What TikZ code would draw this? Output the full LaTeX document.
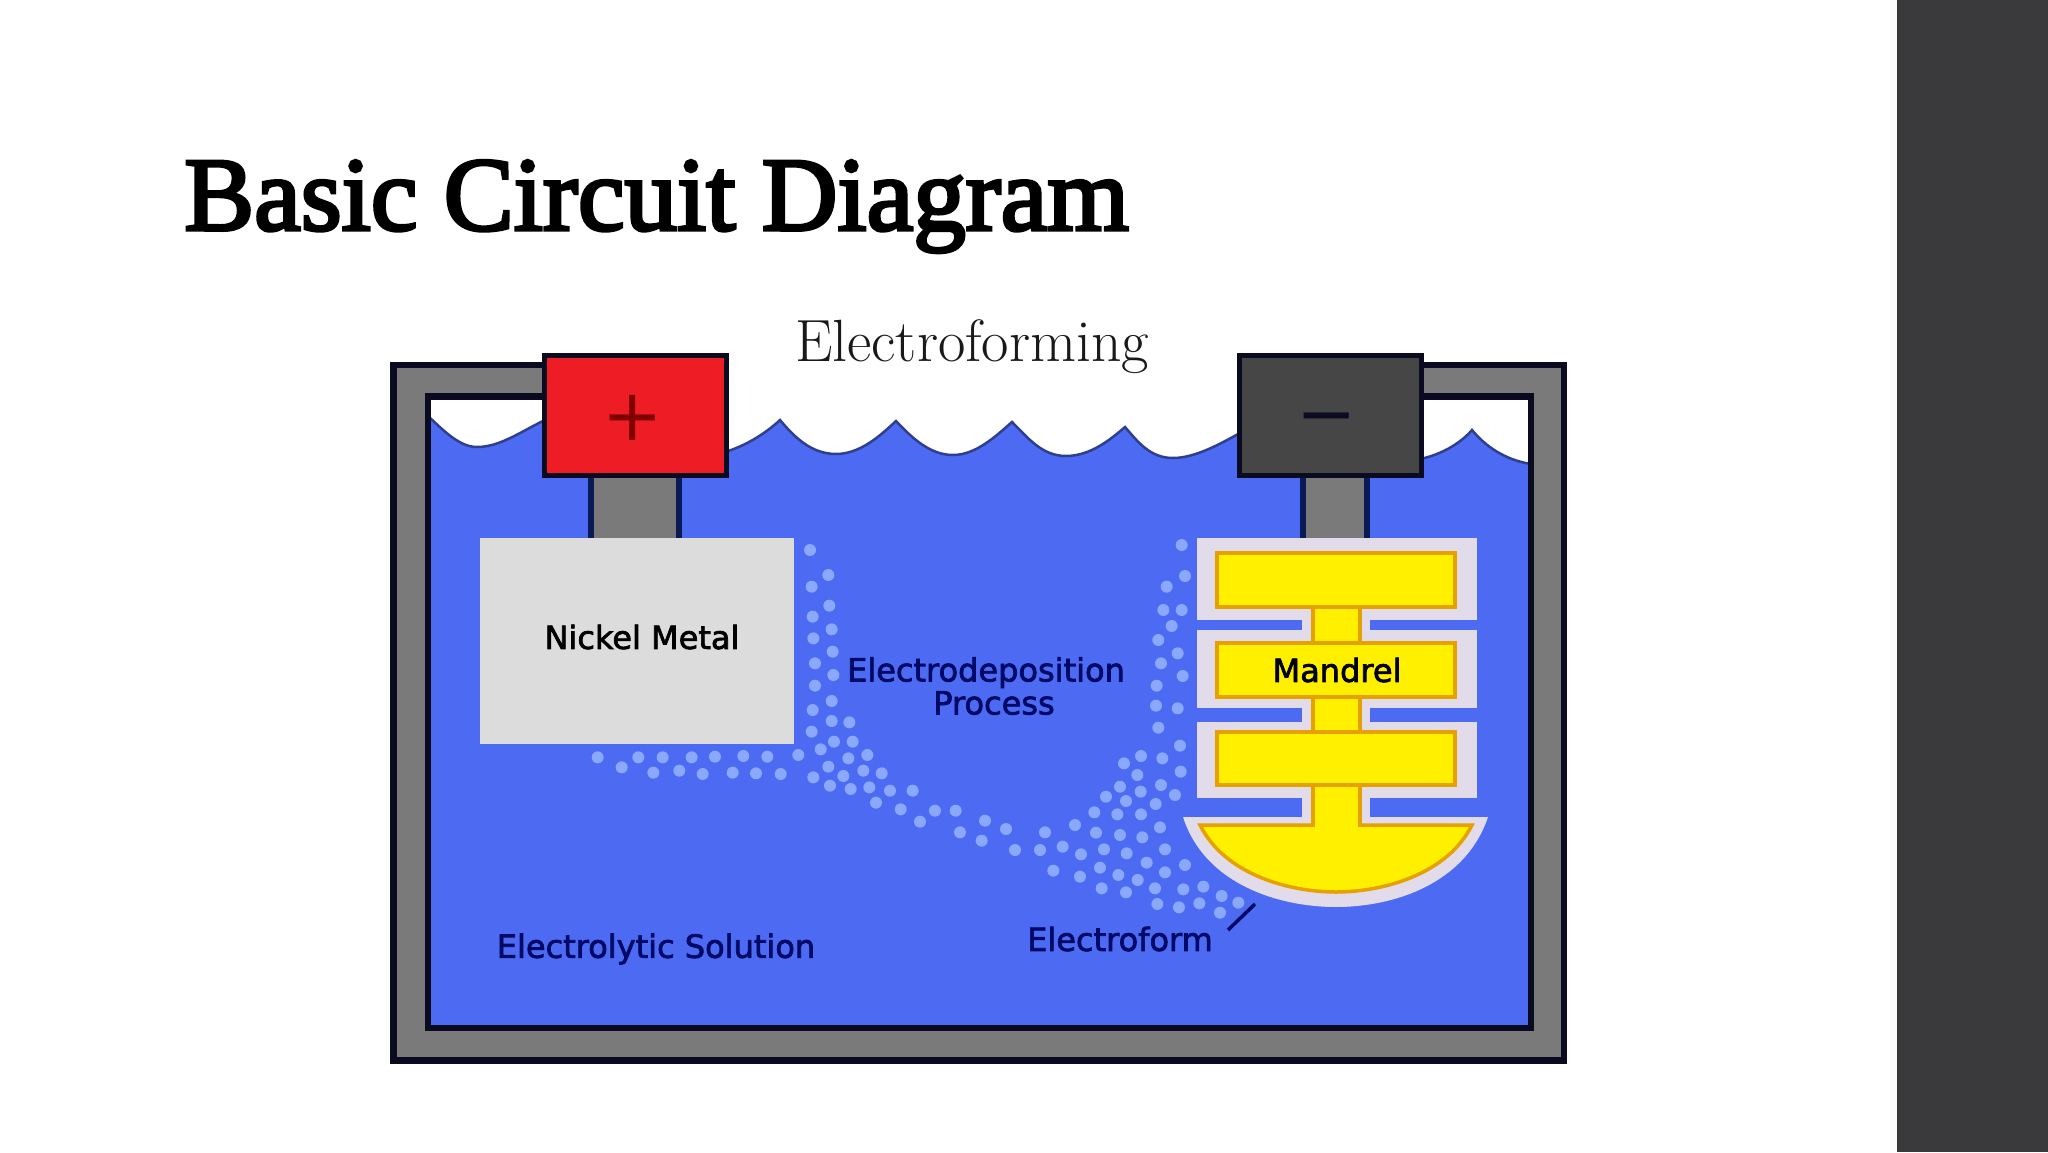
\documentclass[tikz,border=0pt]{standalone}
\usepackage{fontspec}
\newfontfamily\lblfont[FakeBold=2.2]{DejaVu Sans}
\newfontfamily\signfont{DejaVu Sans}
\newfontfamily\titlefont[FakeBold=3.2]{Liberation Serif}
\definecolor{water}{HTML}{4C6AF2}
\definecolor{waveline}{HTML}{2E3F90}
\definecolor{dotc}{HTML}{8BA8FF}
\definecolor{framegrey}{HTML}{7A7A7A}
\definecolor{edgec}{HTML}{0A0A20}
\definecolor{postedge}{HTML}{0A1A55}
\definecolor{redc}{HTML}{EE1C25}
\definecolor{darkc}{HTML}{464646}
\definecolor{nickelc}{HTML}{DCDCDC}
\definecolor{haloc}{HTML}{E2DCEA}
\definecolor{yel}{HTML}{FFF000}
\definecolor{orng}{HTML}{E6A000}
\definecolor{navy}{HTML}{000A66}
\definecolor{sidec}{HTML}{3A3A3C}
\tikzset{
  termbox/.style={draw=edgec,line width=5pt,minimum width=182pt,minimum height=120pt,inner sep=0pt,anchor=center},
  postbox/.style={draw=postedge,line width=6pt,fill=framegrey},
  plate/.style={draw=orng,line width=3.5pt,fill=yel},
  halo/.style={fill=haloc},
  lbl/.style={font=\lblfont\fontsize{32}{33}\selectfont,inner sep=0pt,align=center},
  bubble/.style={fill=dotc},
}
\begin{document}
\begin{tikzpicture}[x=1pt,y=-1pt]
\useasboundingbox (0,0) rectangle (2048,1152);
\fill[white] (0,0) rectangle (2048,1152);
\fill[sidec] (1897,0) rectangle (2048,1152);
% water
\fill[water] (428,416) .. controls (445,432) and (460,447) .. (477,447)
  .. controls (500,447) and (520,432) .. (545,420) -- (725,452)
  .. controls (745,446) and (765,434) .. (780,420)
  .. controls (795,438) and (812,454) .. (836,454)
  .. controls (860,454) and (880,436) .. (896,421)
  .. controls (912,438) and (930,455) .. (953,455)
  .. controls (976,455) and (996,436) .. (1012,422)
  .. controls (1028,438) and (1042,456) .. (1066,456)
  .. controls (1090,456) and (1110,440) .. (1125,427)
  .. controls (1138,442) and (1150,458) .. (1173,458)
  .. controls (1195,458) and (1220,444) .. (1240,433) -- (1420,459)
  .. controls (1440,455) and (1460,444) .. (1472,430)
  .. controls (1485,446) and (1505,460) .. (1531,464) -- (1531,1028) -- (428,1028) -- cycle;
\draw[waveline,line width=2.5pt,line join=round] (428,416) .. controls (445,432) and (460,447) .. (477,447)
  .. controls (500,447) and (520,432) .. (545,420);
\draw[waveline,line width=2.5pt] (725,452)
  .. controls (745,446) and (765,434) .. (780,420)
  .. controls (795,438) and (812,454) .. (836,454)
  .. controls (860,454) and (880,436) .. (896,421)
  .. controls (912,438) and (930,455) .. (953,455)
  .. controls (976,455) and (996,436) .. (1012,422)
  .. controls (1028,438) and (1042,456) .. (1066,456)
  .. controls (1090,456) and (1110,440) .. (1125,427)
  .. controls (1138,442) and (1150,458) .. (1173,458)
  .. controls (1195,458) and (1220,444) .. (1240,433);
\draw[waveline,line width=2.5pt] (1420,459)
  .. controls (1440,455) and (1460,444) .. (1472,430)
  .. controls (1485,446) and (1505,460) .. (1531,464);
% tank frame
\path[fill=framegrey,even odd rule,draw=edgec,line width=6.5pt]
  (393.5,365) rectangle (1564,1060.5) (428,396.5) rectangle (1531,1028);
\fill[white] (700,355) rectangle (1260,403);
% posts
\draw[postbox] (591,470) rectangle (679,548);
\draw[postbox] (1303,470) rectangle (1367,548);
% terminals
\node[termbox,fill=redc] (plusbox) at (635,415) {};
\node[termbox,fill=darkc] (minusbox) at (1330.5,415) {};
\node[font=\signfont\fontsize{72}{72}\selectfont,text=red!50!black,inner sep=0pt] (plussign) at (633,418) {+};
\node[font=\signfont\fontsize{72}{72}\selectfont,text=edgec,inner sep=0pt] (minussign) at (1327,426) {−};
% nickel
\node[fill=nickelc,minimum width=314pt,minimum height=206pt,inner sep=0pt] (nickel) at (637,641) {};
\node[lbl,text=black] (nickellabel) at (642,637) {Nickel Metal};
% mandrel halo
\fill[halo] (1197,538) rectangle (1477,620);
\fill[halo] (1197,630) rectangle (1477,708);
\fill[halo] (1197,722) rectangle (1477,798);
\fill[halo] (1302,615) rectangle (1370,825);
\fill[halo] (1183,817) .. controls (1205,885) and (1280,907) .. (1336,907)
  .. controls (1392,907) and (1465,885) .. (1488,817) -- cycle;
% mandrel yellow
\draw[plate] (1313,600) rectangle (1360,830);
\draw[plate] (1217,553) rectangle (1455,607);
\node[plate,minimum width=238pt,minimum height=54pt,inner sep=0pt] (plateb) at (1336,670) {};
\draw[plate] (1217,732) rectangle (1455,785);
\draw[plate] (1200,825) .. controls (1225,875) and (1290,892) .. (1336,892)
  .. controls (1382,892) and (1447,875) .. (1472,825) -- cycle;
\fill[yel] (1315,615) rectangle (1358,640);
\fill[yel] (1315,700) rectangle (1358,730);
\fill[yel] (1315,788) rectangle (1358,827);
\node[lbl,text=black] (mandrellabel) at (1337,670) {Mandrel};
% bubbles
\foreach \X/\Y in {750/90,805/165,755/200,808/257,758/290,815/328,760/355,818/395,765/430,820/465,765/497,815/543,758/570,815/603,868/607,755/635,822/665,878/665,782/688,865/715,922/705,715/705,805/740,910/752,965/760,850/768,760/772,810/797,872/807,928/802,990/812,1058/812,948/848,1022/868,1080/905,1125/872,1187/872,1200/937,1265/962,1275/902,1338/927,1365/990,1455/937,1440/990,1508/980,1480/1052,113/712,185/742,235/712,308/712,280/758,395/712,358/752,465/710,428/762,550/708,518/758,622/710,588/760,662/762}
  {\fill[bubble] ({560+\X/3},{520+\Y/3}) circle (6pt);}
\foreach \X/\Y in {515/18,475/60,533/100,483/130,548/168,470/197,468/257,533/265,475/323,540/377,542/455,372/430,423/408,487/415,412/465,360/500,483/495,422/515,318/530,525/525,378/543,467/552,283/577,352/583,423/583,225/615,480/622,288/638,360/645,427/652,312/688,380/700,495/688,243/703,440/728,300/743,555/735,240/770,355/765,495/757,413/780,305/805,378/817,465/805,550/808,610/800,665/828,472/852,537/862,598/850,715/848,660/878}
  {\fill[bubble] ({1000+\X/3},{620+\Y/3}) circle (6pt);}
\foreach \X/\Y in {245/645,255/738,200/770,190/840,245/840}
  {\fill[bubble] ({1100+\X/3},{330+\Y/3}) circle (6pt);}
% texts
\node[font=\titlefont\fontsize{105}{110}\selectfont,inner sep=0pt,anchor=base west,text=black] (title) at (184,230) {Basic Circuit Diagram};
\node[font=\fontsize{59.6}{62}\selectfont,inner sep=0pt,anchor=base west,text=black!90] (toptitle) at (795,361) {Electroforming};
\node[lbl,text=navy] (process) at (986,686) {Electrodeposition\\[0pt]\hspace*{16pt}Process};
\node[lbl,text=navy] (solution) at (656,949) {Electrolytic Solution};
\node[lbl,text=navy] (electroform) at (1120,939) {Electroform};
\coordinate (leadA) at (1228,930);
\coordinate (leadB) at (1255,904);
\draw[navy,line width=3.5pt] (leadA) -- (leadB);
\end{tikzpicture}
\end{document}
